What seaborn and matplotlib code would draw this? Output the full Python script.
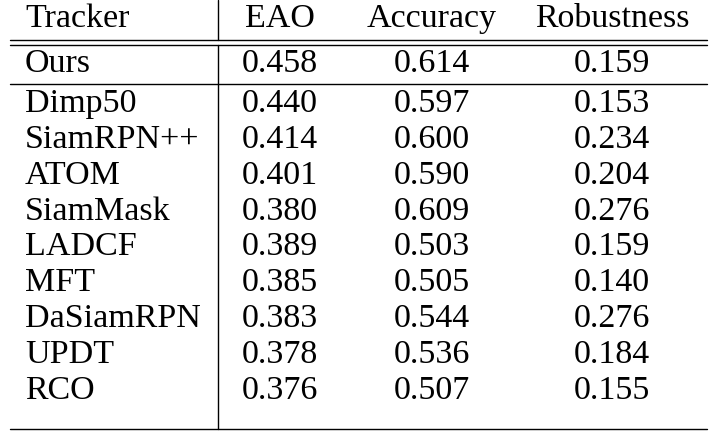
import matplotlib
matplotlib.use('Agg')
import matplotlib.pyplot as plt
import seaborn as sns

trackers = ['Ours', 'Dimp50', 'SiamRPN++', 'ATOM', 'SiamMask', 'LADCF',
            'MFT', 'DaSiamRPN', 'UPDT', 'RCO']
eao = ['0.458', '0.440', '0.414', '0.401', '0.380', '0.389', '0.385', '0.383', '0.378', '0.376']
accuracy = ['0.614', '0.597', '0.600', '0.590', '0.609', '0.503', '0.505', '0.544', '0.536', '0.507']
robustness = ['0.159', '0.153', '0.234', '0.204', '0.276', '0.159', '0.140', '0.276', '0.184', '0.155']
headers = ['Tracker', 'EAO', 'Accuracy', 'Robustness']

sns.set_theme(style='white')
plt.rcParams['font.family'] = ['Liberation Serif', 'DejaVu Serif']
plt.rcParams['text.color'] = 'black'

fig = plt.figure(figsize=(7.17, 4.36), dpi=100)
ax = fig.add_axes([0, 0, 1, 1])
ax.set_xlim(0, 717)
ax.set_ylim(436, 0)
ax.axis('off')

fs = 24.5
col_x = [25, 280, 432, 612]
ax.text(col_x[0], 19, headers[0], fontsize=fs, ha='left', va='center')
for x, h in zip(col_x[1:], headers[1:]):
    ax.text(x, 19, h, fontsize=fs, ha='center', va='center')

row_y = [64, 104, 140, 176, 212, 247, 283, 319, 355, 391]
for y, t, e, a, r in zip(row_y, trackers, eao, accuracy, robustness):
    ax.text(col_x[0], y, t, fontsize=fs, ha='left', va='center')
    ax.text(col_x[1], y, e, fontsize=fs, ha='center', va='center')
    ax.text(col_x[2], y, a, fontsize=fs, ha='center', va='center')
    ax.text(col_x[3], y, r, fontsize=fs, ha='center', va='center')

lw = 1.0
for y in [40, 45, 84, 429]:
    ax.plot([10, 707], [y, y], color='black', lw=lw)
ax.plot([218, 218], [0, 40], color='black', lw=lw)
ax.plot([218, 218], [45, 429], color='black', lw=lw)

fig.savefig('out.png', dpi=100)
